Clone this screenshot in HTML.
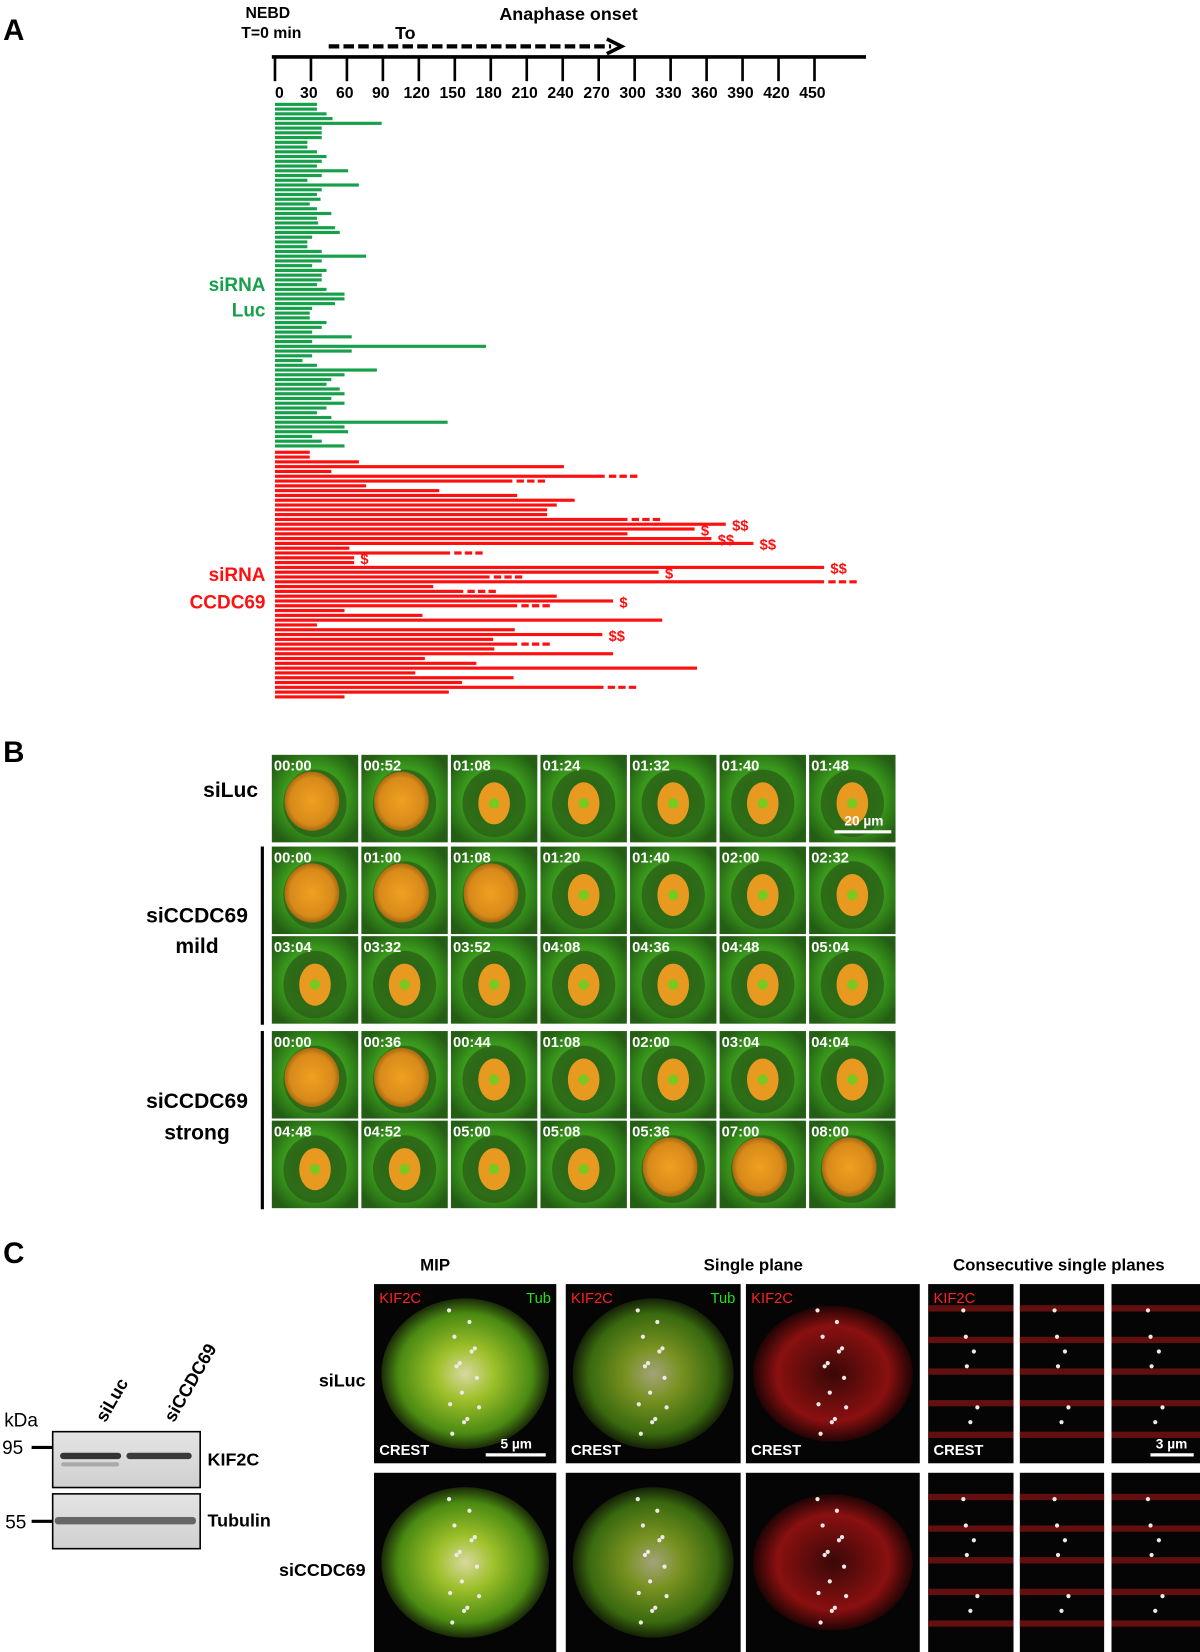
<!DOCTYPE html>
<html><head><meta charset="utf-8"><style>
html,body{margin:0;padding:0;background:#fff}
svg{display:block}
text{font-family:"Liberation Sans",Arial,sans-serif}
</style></head><body>
<svg id="fig" width="1200" height="1652" viewBox="0 0 1139 1567" preserveAspectRatio="none" xmlns="http://www.w3.org/2000/svg">
<defs>
<radialGradient id="cellg" cx="50%" cy="50%" r="60%"><stop offset="0" stop-color="#2f7a1a"/><stop offset="0.6" stop-color="#3a9a1c"/><stop offset="1" stop-color="#245e14"/></radialGradient>
<radialGradient id="nuc" cx="50%" cy="50%" r="50%"><stop offset="0" stop-color="#f0a020"/><stop offset="0.8" stop-color="#d88a1a"/><stop offset="1" stop-color="#a86a10"/></radialGradient>
<radialGradient id="spindle" cx="50%" cy="50%" r="50%"><stop offset="0" stop-color="#d8d8a0"/><stop offset="0.35" stop-color="#9ec02a"/><stop offset="0.8" stop-color="#4a8a12"/><stop offset="1" stop-color="#1a2a08"/></radialGradient>
<radialGradient id="redsp" cx="50%" cy="50%" r="50%"><stop offset="0" stop-color="#3a0808"/><stop offset="0.7" stop-color="#8a1010"/><stop offset="1" stop-color="#200404"/></radialGradient>
<linearGradient id="blot" x1="0" x2="0" y1="0" y2="1"><stop offset="0" stop-color="#e4e4e4"/><stop offset="1" stop-color="#d0d0d0"/></linearGradient>
</defs>

<text x="3" y="38" font-size="28" font-weight="bold">A</text>
<text x="233" y="17" font-size="15" font-weight="bold">NEBD</text>
<text x="229" y="36" font-size="15" font-weight="bold">T=0 min</text>
<text x="375" y="37" font-size="17" font-weight="bold">To</text>
<text x="474" y="19" font-size="17" font-weight="bold">Anaphase onset</text>
<line x1="312" y1="44" x2="580" y2="44" stroke="#000" stroke-width="4" stroke-dasharray="10,4"/>
<path d="M576 37 L590 44 L576 51" fill="none" stroke="#000" stroke-width="3.5"/>
<line x1="258" y1="54" x2="822" y2="54" stroke="#000" stroke-width="3.5"/>
<g id="ticks"></g>
<g id="bars"></g>
<text x="252" y="276" font-size="18" font-weight="bold" fill="#17a04a" text-anchor="end">siRNA</text>
<text x="252" y="300" font-size="18" font-weight="bold" fill="#17a04a" text-anchor="end">Luc</text>
<text x="252" y="551" font-size="18" font-weight="bold" fill="#ff1010" text-anchor="end">siRNA</text>
<text x="252" y="577" font-size="18" font-weight="bold" fill="#ff1010" text-anchor="end">CCDC69</text>

<text x="3" y="723" font-size="28" font-weight="bold">B</text>
<text x="245" y="756" font-size="20" font-weight="bold" text-anchor="end">siLuc</text>
<text x="187" y="875" font-size="20" font-weight="bold" text-anchor="middle">siCCDC69</text>
<text x="187" y="904" font-size="20" font-weight="bold" text-anchor="middle">mild</text>
<text x="187" y="1051" font-size="20" font-weight="bold" text-anchor="middle">siCCDC69</text>
<text x="187" y="1081" font-size="20" font-weight="bold" text-anchor="middle">strong</text>
<line x1="249" y1="803" x2="249" y2="972" stroke="#000" stroke-width="3"/>
<line x1="249" y1="978" x2="249" y2="1147" stroke="#000" stroke-width="3"/>
<g id="cellsB"></g>

<text x="3" y="1198" font-size="28" font-weight="bold">C</text>
<text x="413" y="1205" font-size="16" font-weight="bold" text-anchor="middle">MIP</text>
<text x="715" y="1205" font-size="16" font-weight="bold" text-anchor="middle">Single plane</text>
<text x="1005" y="1205" font-size="16" font-weight="bold" text-anchor="middle">Consecutive single planes</text>
<text x="347" y="1315" font-size="17" font-weight="bold" text-anchor="end">siLuc</text>
<text x="347" y="1495" font-size="17" font-weight="bold" text-anchor="end">siCCDC69</text>

<g>
<text x="100" y="1350" font-size="17" font-weight="bold" transform="rotate(-60 100 1350)">siLuc</text>
<text x="165" y="1350" font-size="17" font-weight="bold" transform="rotate(-60 165 1350)">siCCDC69</text>
<text x="4" y="1353" font-size="18">kDa</text>
<text x="2" y="1379" font-size="18">95</text>
<line x1="30" y1="1373" x2="50" y2="1373" stroke="#000" stroke-width="3"/>
<text x="5" y="1450" font-size="18">55</text>
<line x1="30" y1="1443" x2="50" y2="1443" stroke="#000" stroke-width="3"/>
<rect x="50" y="1358" width="140" height="53" fill="url(#blot)" stroke="#000" stroke-width="1.5"/>
<rect x="57" y="1378" width="58" height="6" rx="3" fill="#333"/><rect x="120" y="1378" width="62" height="6" rx="3" fill="#3a3a3a"/>
<rect x="58" y="1387" width="55" height="4" rx="2" fill="#aaa"/>
<rect x="50" y="1417" width="140" height="52" fill="url(#blot)" stroke="#000" stroke-width="1.5"/>
<rect x="52" y="1439" width="134" height="7" rx="3" fill="#666"/>
<text x="197" y="1390" font-size="17" font-weight="bold">KIF2C</text>
<text x="197" y="1448" font-size="17" font-weight="bold">Tubulin</text>
</g>
<g id="cellsC"></g>
</svg>
<script>
// ---- Panel A data (minutes from NEBD to anaphase onset) ----
const tickLabels = [0,30,60,90,120,150,180,210,240,270,300,330,360,390,420,450];
const lucTimes = [35,35,43,48,89,39,39,39,27,27,35,43,39,35,61,39,27,70,39,35,38,29,35,47,35,36,50,54,31,27,27,39,76,39,31,43,39,39,35,43,58,58,50,31,29,29,43,39,31,64,31,176,64,31,23,35,85,58,47,43,54,58,47,58,43,35,47,144,58,61,31,39,58];
const ccdcTimes = [29,29,70,241,47,275,198,76,137,202,250,235,227,227,294,376,350,294,364,399,62,146,66,66,458,320,179,458,132,157,235,282,202,58,123,323,35,200,273,182,202,183,282,125,168,352,117,199,156,274,145,58];
const ccdcDashed = [0,0,0,0,0,1,1,0,0,0,0,0,0,0,1,0,0,0,0,0,0,1,0,0,0,0,1,1,0,1,0,0,1,0,0,0,0,0,0,0,1,0,0,0,0,0,0,0,0,1,0,0];
const ccdcMarks = ['','','','','','','','','','','','','','','','$$','$','','$$','$$','','','$','','$$','$','','','','','','$','','','','','','','$$','','','','','','','','','','','','',''];

const NS='http://www.w3.org/2000/svg';
const X0=261, PXMIN=1.138;
function xs(m){return X0+m*PXMIN;}
function mk(tag,attrs,parent){const e=document.createElementNS(NS,tag);for(const k in attrs)e.setAttribute(k,attrs[k]);parent.appendChild(e);return e;}

const tg=document.getElementById('ticks');
tickLabels.forEach(t=>{
  const l=mk('line',{x1:xs(t),x2:xs(t),y1:54,y2:77,stroke:'#000','stroke-width':2.5},tg);
  
  
  const tx=mk('text',{x:xs(t)+(t===0?0:-2),y:93,'font-size':15,'font-weight':'bold','text-anchor':t===0?'start':'middle'},tg);
  tx.textContent=t;
  
  
});

const bg=document.getElementById('bars');
const STEP=4.5;
lucTimes.forEach((v,i)=>{
  const y=99+i*STEP;
  const r=mk('rect',{x:X0,y:y-1.5,width:v*PXMIN,height:3,fill:'#17a04a'},bg);
  
  
});
ccdcTimes.forEach((v,i)=>{
  const y=429+i*4.55;
  const r=mk('rect',{x:X0,y:y-1.5,width:v*PXMIN,height:3,fill:'#ff1010'},bg);
  
  
  if(ccdcDashed[i]){
    const d=mk('line',{x1:xs(v)+4,x2:xs(v)+33,y1:y,y2:y,stroke:'#ff1010','stroke-width':3,'stroke-dasharray':'7,3'},bg);
    
    
  }
  if(ccdcMarks[i]){
    const t=mk('text',{x:xs(v)+6,y:y+6,'font-size':14,'font-weight':'bold',fill:'#ff1010'},bg);
    t.textContent=ccdcMarks[i];
    
    
  }
});

// ---- Panel B grid ----
const colX=[258,343,428,513,598,683,768];
const rowsB=[
 {y:716,t:['00:00','00:52','01:08','01:24','01:32','01:40','01:48']},
 {y:803,t:['00:00','01:00','01:08','01:20','01:40','02:00','02:32']},
 {y:888,t:['03:04','03:32','03:52','04:08','04:36','04:48','05:04']},
 {y:978,t:['00:00','00:36','00:44','01:08','02:00','03:04','04:04']},
 {y:1063,t:['04:48','04:52','05:00','05:08','05:36','07:00','08:00']}
];
const cb=document.getElementById('cellsB');
rowsB.forEach((row,ri)=>{
  row.t.forEach((tm,ci)=>{
    const g=mk('g',{},cb);
    
    
    const x=colX[ci], y=row.y;
    mk('rect',{x:x,y:y,width:82,height:83,fill:'url(#cellg)'},g);
    mk('ellipse',{cx:x+41,cy:y+46,rx:30,ry:32,fill:'#2a5a16',opacity:0.7},g);
    const round = (ri===0&&ci<2)||(ri===1&&ci<3)||(ri===3&&ci<2)||(ri===4&&ci>=4);
    if(round){mk('ellipse',{cx:x+38,cy:y+44,rx:26,ry:28,fill:'url(#nuc)'},g);}
    else{mk('ellipse',{cx:x+41,cy:y+46,rx:15,ry:20,fill:'#e89a20'},g);
         mk('circle',{cx:x+41,cy:y+46,r:5,fill:'#7ac820'},g);}
    const t=mk('text',{x:x+2,y:y+15,'font-size':14,'font-weight':'bold',fill:'#fff'},g);
    t.textContent=tm;
  });
});
mk('line',{x1:792,x2:846,y1:789,y2:789,stroke:'#fff','stroke-width':3},cb);
const sb=mk('text',{x:820,y:783,'font-size':13,'font-weight':'bold',fill:'#fff','text-anchor':'middle'},cb);
sb.textContent='20 µm';



// ---- Panel C grid ----
const cc=document.getElementById('cellsC');
const cellsC=[
 {x:355,w:173,kind:'mip'},{x:537,w:166,kind:'merge'},{x:708,w:165,kind:'red'},
 {x:881,w:81,kind:'red'},{x:968,w:80,kind:'red'},{x:1055,w:84,kind:'red'}
];
[1218,1397].forEach((y,ri)=>{
  cellsC.forEach((c,ci)=>{
    const g=mk('g',{},cc);
    
    
    const h=170;
    mk('rect',{x:c.x,y:y,width:c.w,height:h,fill:'#050505'},g);
    if(c.kind==='mip'||c.kind==='merge'){
      mk('ellipse',{cx:c.x+c.w/2,cy:y+h/2,rx:c.w*0.46,ry:h*0.42,fill:'url(#spindle)',opacity:c.kind==='mip'?1:0.75},g);
    } else if(c.w>100){
      mk('ellipse',{cx:c.x+c.w/2,cy:y+h/2,rx:c.w*0.46,ry:h*0.38,fill:'url(#redsp)'},g);
    } else {
      for(let k=0;k<5;k++) mk('rect',{x:c.x,y:y+20+k*30,width:c.w,height:6,fill:'#8a1414',opacity:0.7},g);
    }
    for(let k=0;k<(c.w>100?14:6);k++){
      mk('circle',{cx:c.x+c.w*0.5+((k*37)%30-15)*(c.w/170),cy:y+25+((k*53)%120),r:2,fill:'#f0e8e8'},g);
    }
    if(ri===0){
      if(ci<4){
        const t=mk('text',{x:c.x+5,y:y+18,'font-size':14,fill:'#ff2020'},g);t.textContent='KIF2C';
      }
      if(ci<2){const t=mk('text',{x:c.x+c.w-5,y:y+18,'font-size':14,fill:'#20e020','text-anchor':'end'},g);t.textContent='Tub';}
      if(ci<4){const t=mk('text',{x:c.x+5,y:y+h-8,'font-size':14,'font-weight':'bold',fill:'#fff'},g);t.textContent='CREST';}
    }
  });
});
mk('line',{x1:461,x2:518,y1:1380,y2:1380,stroke:'#fff','stroke-width':3},cc);
const s5=mk('text',{x:490,y:1374,'font-size':13,'font-weight':'bold',fill:'#fff','text-anchor':'middle'},cc);
s5.textContent='5 µm';


mk('line',{x1:1092,x2:1133,y1:1380,y2:1380,stroke:'#fff','stroke-width':3},cc);
const s3=mk('text',{x:1112,y:1374,'font-size':13,'font-weight':'bold',fill:'#fff','text-anchor':'middle'},cc);
s3.textContent='3 µm';


</script>
</body></html>
